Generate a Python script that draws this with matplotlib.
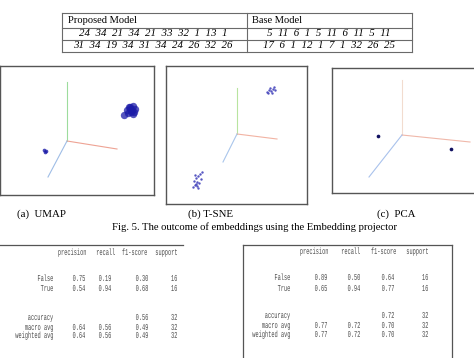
import matplotlib.pyplot as plt
from matplotlib.textpath import TextPath
from matplotlib.patches import PathPatch
from matplotlib.font_manager import FontProperties
from matplotlib.transforms import Affine2D

# ---- data ----
table_headers = ["Proposed Model", "Base Model"]
proposed_rows = [[24, 34, 21, 34, 21, 33, 32, 1, 13, 1],
                 [31, 34, 19, 34, 31, 34, 24, 26, 32, 26]]
base_rows = [[5, 11, 6, 1, 5, 11, 6, 11, 5, 11],
             [17, 6, 1, 12, 1, 7, 1, 32, 26, 25]]

panel_titles = ["(a)  UMAP", "(b) T-SNE", "(c)  PCA"]
caption = "Fig. 5. The outcome of embeddings using the Embedding projector"

# projected embedding points, in panel-local pixel units (x right, y down)
umap_big_x = [127, 130, 133, 135, 131, 128, 124, 133, 130, 134, 129, 132]
umap_big_y = [44, 41, 40, 43, 46, 47, 49, 48, 43, 46, 41, 44]
umap_small_x = [44, 46, 45]
umap_small_y = [84, 85, 86]
tsne_top_x = [101, 103, 104, 105, 106, 107, 109, 102, 108]
tsne_top_y = [26, 24, 22, 25, 27, 23, 24, 27, 21]
tsne_bot_x = [27, 29, 31, 30, 32, 34, 35, 33, 28, 31, 36, 29, 32, 30]
tsne_bot_y = [121, 119, 116, 112, 110, 108, 113, 117, 115, 120, 106, 109, 122, 118]
pca_x = [46, 119]
pca_y = [68, 81]

# axis gizmo (origin, y-axis end, x-axis end, z-axis end) per panel
gizmos = [
    [(67, 75), (67, 16), (117, 83), (48, 111)],
    [(71, 68), (71, 22), (111, 73), (57, 96)],
    [(70, 67), (70, 12), (138, 74), (37, 109)],
]
gizmo_colors = [
    ["#9ddc9d", "#eea394", "#9fbde6"],
    ["#b8e4a0", "#f2b3a3", "#a9c6ec"],
    ["#f2dccf", "#f0b8aa", "#a9c2ec"],
]

labels = ["False", "True", "accuracy", "macro avg", "weighted avg"]
left_prec = [0.75, 0.54, None, 0.64, 0.64]
left_rec = [0.19, 0.94, None, 0.56, 0.56]
left_f1 = [0.30, 0.68, 0.56, 0.49, 0.49]
left_sup = [16, 16, 32, 32, 32]
right_prec = [0.89, 0.65, None, 0.77, 0.77]
right_rec = [0.50, 0.94, None, 0.72, 0.72]
right_f1 = [0.64, 0.77, 0.72, 0.70, 0.70]
right_sup = [16, 16, 32, 32, 32]

W, H = 474, 358
fig = plt.figure(figsize=(W / 100, H / 100), dpi=100)
fig.patch.set_facecolor("white")

bg = fig.add_axes([0, 0, 1, 1])
bg.set_xlim(0, W)
bg.set_ylim(H, 0)
bg.axis("off")

serif = "Liberation Serif"
line_c = "#6a6a6a"

# ---- table at the top ----
tx0, tx1, tmid = 62, 412, 247
row_lines = [13, 28, 40, 52]
for y in row_lines:
    bg.plot([tx0, tx1], [y, y], color=line_c, lw=0.8)
for x in [tx0, tmid, tx1]:
    bg.plot([x, x], [row_lines[0], row_lines[-1]], color=line_c, lw=0.8)
bg.text(68, 20.5, table_headers[0], fontsize=7.6, family=serif, va="center", ha="left")
bg.text(252, 20.5, table_headers[1], fontsize=7.6, family=serif, va="center", ha="left")
for i, y in enumerate([34, 46]):
    bg.text(153, y, "  ".join(str(v) for v in proposed_rows[i]), fontsize=7.8,
            family=serif, style="italic", va="center", ha="center")
    bg.text(329, y, "  ".join(str(v) for v in base_rows[i]), fontsize=7.8,
            family=serif, style="italic", va="center", ha="center")

# ---- embedding panels ----
boxes = [(0, 66, 154, 195), (166, 66, 307, 204), (332, 68, 475, 193)]
panels = []
for (x0, y0, x1, y1) in boxes:
    ax = fig.add_axes([x0 / W, 1 - y1 / H, (x1 - x0) / W, (y1 - y0) / H])
    ax.set_xlim(0, x1 - x0)
    ax.set_ylim(y1 - y0, 0)
    ax.set_xticks([])
    ax.set_yticks([])
    for s in ax.spines.values():
        s.set_color("#555555")
        s.set_linewidth(1.0)
    panels.append(ax)

for ax, g, cols in zip(panels, gizmos, gizmo_colors):
    o = g[0]
    for end, c in zip(g[1:], cols):
        ax.plot([o[0], end[0]], [o[1], end[1]], color=c, lw=0.8)

navy = "#1c1ca8"
panels[0].scatter(umap_big_x, umap_big_y, s=28, color=navy, alpha=0.75, lw=0)
panels[0].scatter(umap_small_x, umap_small_y, s=7, color=navy, alpha=0.8, lw=0)
panels[1].scatter(tsne_top_x, tsne_top_y, s=3, color="#3a3ab8", alpha=0.85, lw=0)
panels[1].scatter(tsne_bot_x, tsne_bot_y, s=3, color="#3a3ab8", alpha=0.85, lw=0)
panels[2].scatter(pca_x, pca_y, s=7, color="#101060", lw=0)

# ---- sub-captions and figure caption ----
bg.text(17, 214, panel_titles[0], fontsize=7.8, family=serif, va="center", ha="left")
bg.text(211, 214, panel_titles[1], fontsize=7.8, family=serif, va="center", ha="center")
bg.text(377, 214, panel_titles[2], fontsize=7.8, family=serif, va="center", ha="left")
bg.text(255, 227, caption, fontsize=7.7, family=serif, va="center", ha="center")

# ---- classification reports (condensed console font) ----
mono_fp = FontProperties(family="Liberation Mono")
rep_c = "#4a4a4a"
SX, SY = 5.3, 9.0   # squeeze the mono glyphs like the screenshot


def ctext(x, y, s):
    # right-aligned, vertically centred, horizontally squeezed text
    if not s:
        return
    tp = TextPath((0, 0), s, size=1, prop=mono_fp)
    ext = tp.get_extents()
    tr = Affine2D().translate(-ext.x1, -0.33).scale(SX, -SY).translate(x, y)
    bg.add_patch(PathPatch(tr.transform_path(tp), facecolor=rep_c, lw=0))


def fmt(v):
    return "" if v is None else f"{v:.2f}"


def report(x_lab, x_heads, x_cols, y_head, ys, prec, rec, f1, sup):
    heads = ["precision", "recall", "f1-score", "support"]
    for h, xc in zip(heads, x_heads):
        ctext(xc, y_head, h)
    for lab, y, p, r, f, s in zip(labels, ys, prec, rec, f1, sup):
        ctext(x_lab, y, lab)
        for val, xc in zip([fmt(p), fmt(r), fmt(f), str(s)], x_cols):
            ctext(xc, y, val)


report(53, [86, 115, 147, 177], [85, 111, 148, 177], 252,
       [278, 288, 317, 327, 335], left_prec, left_rec, left_f1, left_sup)
report(290, [328, 360, 396, 428], [327, 360, 394, 428], 251,
       [277, 288, 315, 325, 334], right_prec, right_rec, right_f1, right_sup)

bg.plot([0, 183], [245, 245], color="#555555", lw=0.9)
bg.plot([243, 452], [245, 245], color="#555555", lw=0.9)
bg.plot([243, 243], [245, H], color="#555555", lw=0.9)
bg.plot([452, 452], [245, H], color="#555555", lw=0.9)

fig.savefig("out.png", dpi=100)
